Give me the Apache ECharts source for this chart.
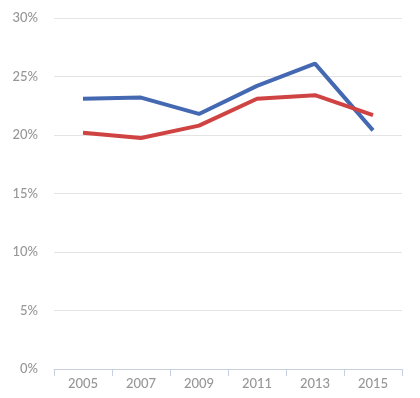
<!DOCTYPE html>
<html><head><meta charset="utf-8">
<script src="https://cdn.jsdelivr.net/npm/echarts@6/dist/echarts.min.js"></script>
<style>html,body{margin:0;padding:0;background:#fff}#c{width:420px;height:398px}</style>
</head><body><div id="c"></div>
<script>
const categories = ['2005','2007','2009','2011','2013','2015'];
const blueValues = [23.1, 23.2, 21.8, 24.2, 26.1, 20.4];
const redValues = [20.2, 19.75, 20.8, 23.1, 23.4, 21.7];
const chart = echarts.init(document.getElementById('c'));
chart.setOption({
  animation: false,
  grid: {left: 54, right: 18, top: 18, bottom: 29},
  xAxis: {
    type: 'category', data: categories, boundaryGap: true,
    axisLine: {lineStyle: {color: '#c8d0e0', width: 1}},
    axisTick: {show: true, length: 7, lineStyle: {color: '#c8d0e0'}},
    axisLabel: {color: '#969696', fontFamily: 'Lato', fontWeight: 500, fontSize: 13, margin: 8}
  },
  yAxis: {
    type: 'value', min: 0, max: 30, interval: 5,
    axisLine: {show: false}, axisTick: {show: false},
    axisLabel: {formatter: '{value}%', color: '#969696', fontFamily: 'Lato', fontWeight: 500, fontSize: 13, margin: 16},
    splitLine: {lineStyle: {color: '#e4e4e4', width: 1}}
  },
  series: [
    {type: 'line', data: blueValues, symbol: 'none', lineStyle: {color: '#4469b2', width: 4}, z: 2},
    {type: 'line', data: redValues, symbol: 'none', lineStyle: {color: '#d04343', width: 4}, z: 3}
  ]
});
</script></body></html>
